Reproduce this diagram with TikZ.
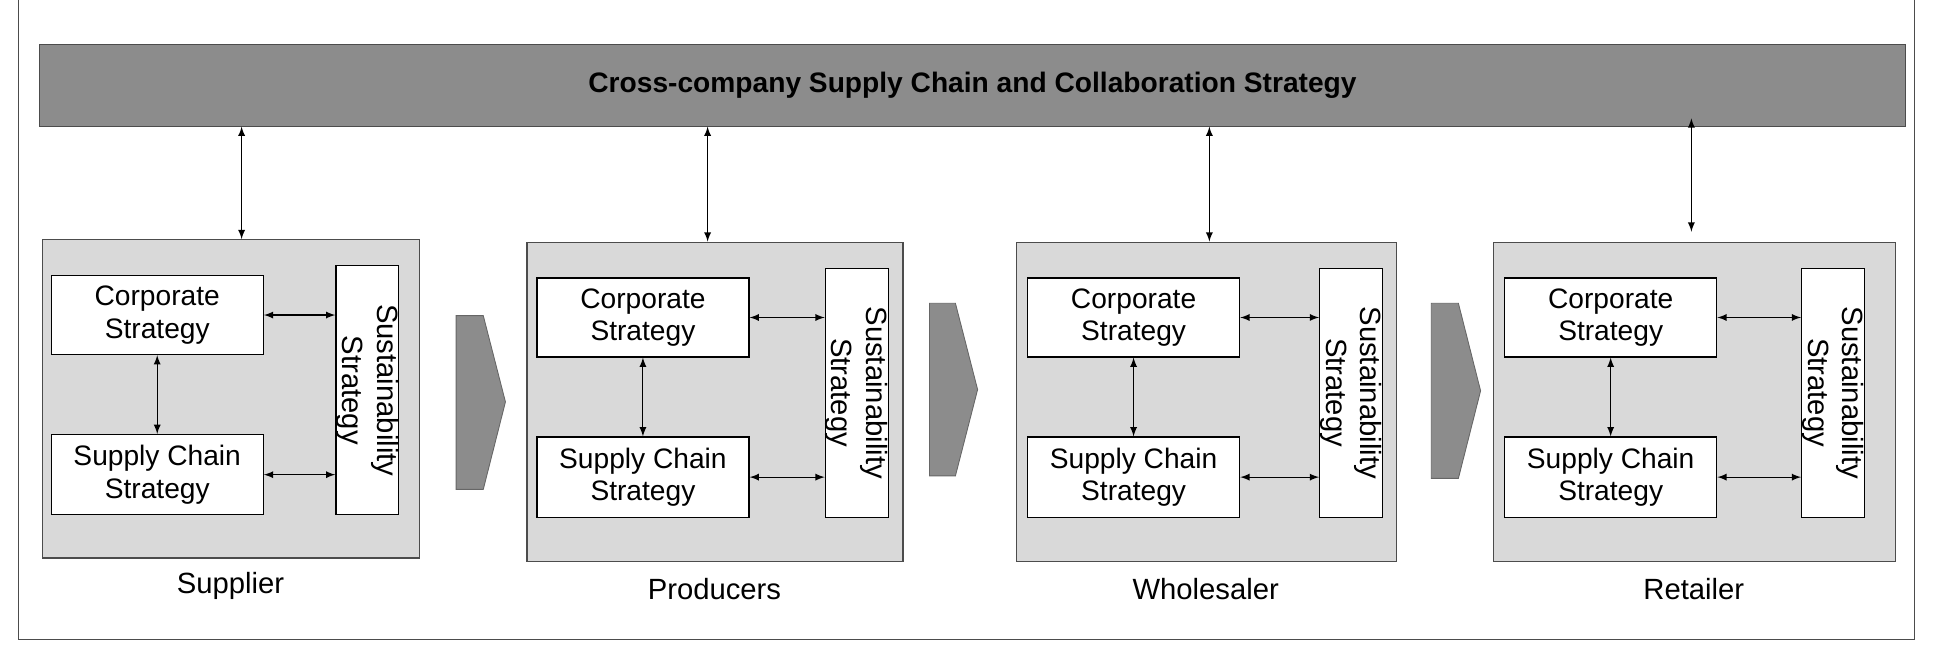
\documentclass[tikz,border=0pt]{standalone}
\usepackage{fontspec}
\setmainfont{Liberation Sans}
\begin{document}
\begin{tikzpicture}[x=0.02cm,y=-0.02cm,
  comp/.style={draw=black!70,fill=black!15,line width=0.6pt},
  inner/.style={draw=black,fill=white,line width=0.6pt,align=center,font=\fontsize{13}{15}\selectfont},
  lab/.style={font=\fontsize{13.5}{16}\selectfont},
  arr/.style={<->,>=latex,line width=0.5pt},
  chev/.style={fill=black!45,draw=black!60}]
\useasboundingbox (0,0) rectangle (1568,525);
\draw[black!70] (15,-2) rectangle (1553,519);
\node[draw=black!70,fill=black!45,minimum width=1513*0.02cm,minimum height=66*0.02cm,anchor=north west,inner sep=0,
  font=\bfseries\fontsize{13}{15}\selectfont] (top) at (32,36) {Cross-company Supply Chain and Collaboration Strategy};
% helper macro per company
\newcommand{\company}[9]{%
 % #1 name, #2 x1, #3 y1, #4 x2, #5 y2, #6 label, #7 inner x offset, #8 sust x, #9 arrow x
 \node[comp,anchor=north west,minimum width={(#4-#2)*0.02cm},minimum height={(#5-#3)*0.02cm},inner sep=0] (#1) at (#2,#3) {};
 \node[inner,anchor=north west,minimum width=172*0.02cm,minimum height=64*0.02cm,inner sep=0] (#1c) at (#7,#3+29) {Corporate\\Strategy};
 \node[inner,anchor=north west,minimum width=172*0.02cm,minimum height=65*0.02cm,inner sep=0] (#1s) at (#7,#3+158) {Supply Chain\\Strategy};
 \node[inner,anchor=north west,minimum width=51*0.02cm,minimum height=202*0.02cm,inner sep=0] (#1b) at (#8,#3+21) {};
 \node[inner,draw=none,fill=none,rotate=-90,font=\fontsize{13.5}{16}\selectfont] at (#1b.center) {Sustainability\\Strategy};
 \node[lab] (#1l) at ({(#2+#4)/2},#5+23) {#6};
 \coordinate (#1t) at (#9,#3);
 \draw[arr] (#1c) -- (#1s);
 \draw[arr] (#1c.east) -- (#1c.east -| #1b.west);
 \draw[arr] (#1s.east) -- (#1s.east -| #1b.west);
}
\company{a}{34}{194}{340}{452}{Supplier}{41}{272}{196}
\company{b}{427}{196}{732}{455}{Producers}{435}{669}{574}
\company{c}{824}{196}{1132}{455}{Wholesaler}{833}{1070}{981}
\company{d}{1211}{196}{1537}{455}{Retailer}{1220}{1461}{1372}
\draw[arr] (at |- top.south) -- (at);
\draw[arr] (bt |- top.south) -- (bt);
\draw[arr] (ct |- top.south) -- (ct);
\coordinate (dt2) at (1372,188);
\draw[arr] (1372,96) coordinate (dtop) -- (dt2);
\draw[chev] (370,256) -- (392,256) -- (410,326) -- (392,397) -- (370,397) -- cycle;
\draw[chev] (754,246) -- (775,246) -- (793,316) -- (775,386) -- (754,386) -- cycle;
\draw[chev] (1161,246) -- (1183,246) -- (1201,317) -- (1183,388) -- (1161,388) -- cycle;
\end{tikzpicture}
\end{document}
